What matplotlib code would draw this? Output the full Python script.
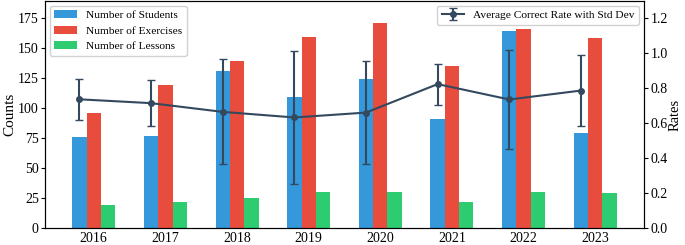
import numpy as np
import matplotlib
matplotlib.use("Agg")
import matplotlib.pyplot as plt

plt.rcParams['font.family'] = ['Liberation Serif', 'DejaVu Serif']

years = ['2016', '2017', '2018', '2019', '2020', '2021', '2022', '2023']
students = [76, 77, 131, 109, 124, 91, 164, 79]
exercises = [96, 119, 139, 159, 171, 135, 166, 158]
lessons = [19, 22, 25, 30, 30, 22, 30, 29]
rate_mean = [0.737, 0.715, 0.665, 0.633, 0.661, 0.824, 0.736, 0.787]
rate_std = [0.116, 0.130, 0.300, 0.380, 0.297, 0.118, 0.282, 0.205]

x = np.arange(len(years))
w = 0.2

fig = plt.figure(figsize=(6.85, 2.45), dpi=100)
ax = fig.add_axes([45 / 685, 17 / 245, 599 / 685, 227 / 245])

ax.bar(x - w, students, w, color='#3498db', label='Number of Students')
ax.bar(x, exercises, w, color='#e74c3c', label='Number of Exercises')
ax.bar(x + w, lessons, w, color='#2ecc71', label='Number of Lessons')
ax.set_ylim(0, 189)
ax.set_xticks(x)
ax.set_xticklabels(years)
ax.tick_params(axis='x', length=0, labelsize=10, pad=3)
ax.tick_params(axis='y', labelsize=10, length=3, pad=1.5)
ax.set_ylabel('Counts', fontsize=11)
ax.yaxis.set_label_coords(-0.048, 0.5)
ax.legend(loc='upper left', fontsize=8.2, framealpha=0.9, borderaxespad=0.4)

ax2 = ax.twinx()
ax2.errorbar(x - w, rate_mean, yerr=rate_std, color='#34495e', marker='o',
             markersize=4, linewidth=1.5, elinewidth=1.5, capsize=3,
             label='Average Correct Rate with Std Dev')
ax2.set_ylim(0, 1.3)
ax2.tick_params(axis='y', labelsize=10, length=3, pad=1.5)
ax2.set_ylabel('Rates', fontsize=10.5)
ax2.yaxis.set_label_coords(1.041, 0.5)
ax2.legend(loc='upper right', fontsize=8.2, framealpha=0.9, borderaxespad=0.4)

fig.savefig('out.png', dpi=100)
